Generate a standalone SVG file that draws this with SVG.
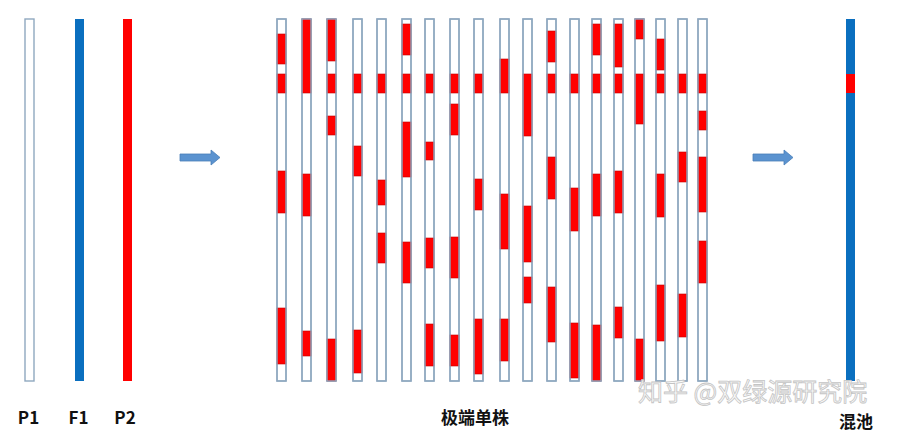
<svg xmlns="http://www.w3.org/2000/svg" width="900" height="439" viewBox="0 0 900 439">
<style>
.bg{fill:#fff}
.bar{fill:#fff;stroke:#8fa8bf;stroke-width:1.4}
.frame{fill:none;stroke:#8fa8bf;stroke-width:1.4}
.r{fill:#ff0000;stroke:#c00000;stroke-width:0.6}
.blue{fill:#0a6fbf}
.red{fill:#ff0000}
.arrow{fill:#5b93d0;stroke:#4a7fb8;stroke-width:0.8}
.lbl{font-family:"Noto Sans CJK SC","Noto Sans",sans-serif;font-weight:bold;font-size:17px;fill:#111;text-anchor:middle}
.wm{font-family:"Noto Sans CJK SC",sans-serif;font-size:25px;fill:#fafafa;stroke:#c4c4c4;stroke-width:0.8}
</style>
<rect class="bg" x="0" y="0" width="900" height="439"/>
<defs>
<path id="arr" d="M0,4 L31,4 L31,0 L40,7.5 L31,15 L31,11 L0,11 Z"/>
</defs>
<g id="P1"><rect class="bar" x="25" y="19" width="9" height="362"/></g>
<g id="F1"><rect class="blue" x="75" y="19" width="9" height="362"/></g>
<g id="P2"><rect class="red" x="123" y="19" width="9" height="362"/></g>
<g id="connectors">
<use href="#arr" class="arrow" x="180" y="150"/>
<use href="#arr" class="arrow" x="753" y="150"/>
</g>
<g id="b1"><rect class="bar" x="277" y="19" width="9" height="362"/><rect class="r" x="277" y="34" width="9" height="30"/><rect class="r" x="277" y="74" width="9" height="19"/><rect class="r" x="277" y="171" width="9" height="42"/><rect class="r" x="277" y="308" width="9" height="56"/><rect class="frame" x="277" y="19" width="9" height="362"/></g>
<g id="b2"><rect class="bar" x="302" y="19" width="9" height="362"/><rect class="r" x="302" y="19" width="9" height="74"/><rect class="r" x="302" y="174" width="9" height="42"/><rect class="r" x="302" y="331" width="9" height="25"/><rect class="frame" x="302" y="19" width="9" height="362"/></g>
<g id="b3"><rect class="bar" x="327" y="19" width="9" height="362"/><rect class="r" x="327" y="19" width="9" height="42"/><rect class="r" x="327" y="74" width="9" height="19"/><rect class="r" x="327" y="116" width="9" height="19"/><rect class="r" x="327" y="339" width="9" height="42"/><rect class="frame" x="327" y="19" width="9" height="362"/></g>
<g id="b4"><rect class="bar" x="353" y="19" width="9" height="362"/><rect class="r" x="353" y="74" width="9" height="19"/><rect class="r" x="353" y="146" width="9" height="30"/><rect class="r" x="353" y="330" width="9" height="43"/><rect class="frame" x="353" y="19" width="9" height="362"/></g>
<g id="b5"><rect class="bar" x="377" y="19" width="9" height="362"/><rect class="r" x="377" y="74" width="9" height="19"/><rect class="r" x="377" y="180" width="9" height="25"/><rect class="r" x="377" y="233" width="9" height="30"/><rect class="frame" x="377" y="19" width="9" height="362"/></g>
<g id="b6"><rect class="bar" x="402" y="19" width="9" height="362"/><rect class="r" x="402" y="24" width="9" height="31"/><rect class="r" x="402" y="74" width="9" height="19"/><rect class="r" x="402" y="122" width="9" height="55"/><rect class="r" x="402" y="242" width="9" height="41"/><rect class="frame" x="402" y="19" width="9" height="362"/></g>
<g id="b7"><rect class="bar" x="425" y="19" width="9" height="362"/><rect class="r" x="425" y="74" width="9" height="19"/><rect class="r" x="425" y="142" width="9" height="18"/><rect class="r" x="425" y="238" width="9" height="30"/><rect class="r" x="425" y="324" width="9" height="42"/><rect class="frame" x="425" y="19" width="9" height="362"/></g>
<g id="b8"><rect class="bar" x="450" y="19" width="9" height="362"/><rect class="r" x="450" y="74" width="9" height="19"/><rect class="r" x="450" y="104" width="9" height="31"/><rect class="r" x="450" y="237" width="9" height="41"/><rect class="r" x="450" y="335" width="9" height="31"/><rect class="frame" x="450" y="19" width="9" height="362"/></g>
<g id="b9"><rect class="bar" x="474" y="19" width="9" height="362"/><rect class="r" x="474" y="74" width="9" height="19"/><rect class="r" x="474" y="179" width="9" height="31"/><rect class="r" x="474" y="319" width="9" height="55"/><rect class="frame" x="474" y="19" width="9" height="362"/></g>
<g id="b10"><rect class="bar" x="500" y="19" width="9" height="362"/><rect class="r" x="500" y="59" width="9" height="34"/><rect class="r" x="500" y="194" width="9" height="55"/><rect class="r" x="500" y="319" width="9" height="42"/><rect class="frame" x="500" y="19" width="9" height="362"/></g>
<g id="b11"><rect class="bar" x="523" y="19" width="9" height="362"/><rect class="r" x="523" y="74" width="9" height="62"/><rect class="r" x="523" y="206" width="9" height="56"/><rect class="r" x="523" y="277" width="9" height="26"/><rect class="frame" x="523" y="19" width="9" height="362"/></g>
<g id="b12"><rect class="bar" x="547" y="19" width="9" height="362"/><rect class="r" x="547" y="31" width="9" height="31"/><rect class="r" x="547" y="74" width="9" height="19"/><rect class="r" x="547" y="157" width="9" height="42"/><rect class="r" x="547" y="287" width="9" height="55"/><rect class="frame" x="547" y="19" width="9" height="362"/></g>
<g id="b13"><rect class="bar" x="570" y="19" width="9" height="362"/><rect class="r" x="570" y="74" width="9" height="19"/><rect class="r" x="570" y="188" width="9" height="43"/><rect class="r" x="570" y="323" width="9" height="55"/><rect class="frame" x="570" y="19" width="9" height="362"/></g>
<g id="b14"><rect class="bar" x="592" y="19" width="9" height="362"/><rect class="r" x="592" y="24" width="9" height="31"/><rect class="r" x="592" y="74" width="9" height="19"/><rect class="r" x="592" y="174" width="9" height="42"/><rect class="r" x="592" y="325" width="9" height="56"/><rect class="frame" x="592" y="19" width="9" height="362"/></g>
<g id="b15"><rect class="bar" x="614" y="19" width="9" height="362"/><rect class="r" x="614" y="24" width="9" height="43"/><rect class="r" x="614" y="74" width="9" height="19"/><rect class="r" x="614" y="171" width="9" height="42"/><rect class="r" x="614" y="307" width="9" height="31"/><rect class="frame" x="614" y="19" width="9" height="362"/></g>
<g id="b16"><rect class="bar" x="635" y="19" width="9" height="362"/><rect class="r" x="635" y="19" width="9" height="20"/><rect class="r" x="635" y="74" width="9" height="50"/><rect class="r" x="635" y="339" width="9" height="42"/><rect class="frame" x="635" y="19" width="9" height="362"/></g>
<g id="b17"><rect class="bar" x="656" y="19" width="9" height="362"/><rect class="r" x="656" y="39" width="9" height="31"/><rect class="r" x="656" y="74" width="9" height="19"/><rect class="r" x="656" y="174" width="9" height="43"/><rect class="r" x="656" y="285" width="9" height="56"/><rect class="frame" x="656" y="19" width="9" height="362"/></g>
<g id="b18"><rect class="bar" x="678" y="19" width="9" height="362"/><rect class="r" x="678" y="74" width="9" height="19"/><rect class="r" x="678" y="152" width="9" height="30"/><rect class="r" x="678" y="294" width="9" height="43"/><rect class="frame" x="678" y="19" width="9" height="362"/></g>
<g id="b19"><rect class="bar" x="698" y="19" width="9" height="362"/><rect class="r" x="698" y="74" width="9" height="19"/><rect class="r" x="698" y="111" width="9" height="19"/><rect class="r" x="698" y="157" width="9" height="55"/><rect class="r" x="698" y="241" width="9" height="42"/><rect class="frame" x="698" y="19" width="9" height="362"/></g>
<g id="pool"><rect class="blue" x="846" y="19" width="9" height="362"/><rect class="red" x="846" y="74" width="9" height="19"/></g>
<g id="labels">
<text class="lbl" x="28.5" y="424">P1</text>
<text class="lbl" x="78.5" y="424">F1</text>
<text class="lbl" x="125" y="424">P2</text>
<text class="lbl" x="475" y="424">极端单株</text>
<text class="lbl" x="856" y="428">混池</text>
</g>
<text class="wm" x="638" y="401">知乎 @双绿源研究院</text>
</svg>
